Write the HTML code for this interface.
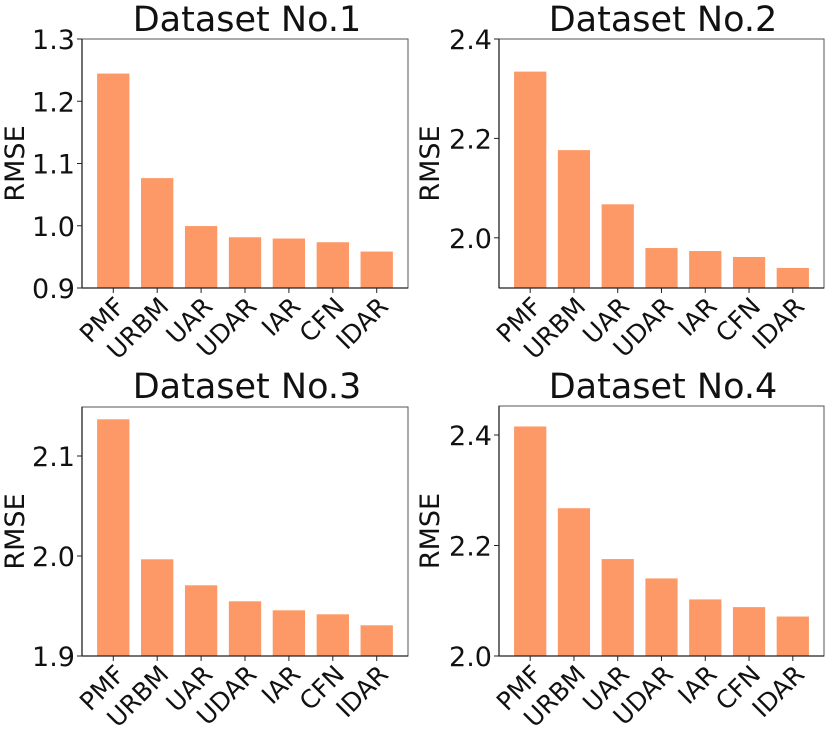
<!DOCTYPE html>
<html><head><meta charset="utf-8">
<style>
html,body{margin:0;padding:0;background:#fff;}
svg{display:block;font-family:"DejaVu Sans","Liberation Sans",sans-serif;}
</style></head>
<body>
<svg id="chart" width="828" height="736" viewBox="0 0 828 736" xmlns="http://www.w3.org/2000/svg"></svg>
<script>
const categories = ["PMF","URBM","UAR","UDAR","IAR","CFN","IDAR"];
const titles = ["Dataset No.1","Dataset No.2","Dataset No.3","Dataset No.4"];
const values1 = [1.245,1.077,1.000,0.982,0.980,0.974,0.959];
const values2 = [2.335,2.177,2.068,1.980,1.974,1.962,1.940];
const values3 = [2.137,1.997,1.971,1.955,1.946,1.942,1.931];
const values4 = [2.416,2.268,2.176,2.141,2.103,2.089,2.072];
const ylims = [[0.9,1.3],[1.899,2.4],[1.9,2.149],[2.0,2.4525]];
const ticks1 = ["0.9","1.0","1.1","1.2","1.3"];
const ticks2 = ["2.0","2.2","2.4"];
const ticks3 = ["1.9","2.0","2.1"];
const ticks4 = ["2.0","2.2","2.4"];

const NS="http://www.w3.org/2000/svg";
const svg=document.getElementById('chart');
function mk(tag,attrs,parent){const e=document.createElementNS(NS,tag);for(const k in attrs)e.setAttribute(k,attrs[k]);(parent||svg).appendChild(e);return e;}

const boxes=[{x:82,y:39,w:326,h:249,tx:247,ty:31,lx:24},
             {x:499,y:39,w:325,h:249,tx:663,ty:31,lx:439},
             {x:82,y:407,w:326,h:249,tx:247,ty:398,lx:24},
             {x:499,y:406,w:325,h:250,tx:663,ty:398,lx:439}];
const allValues=[values1,values2,values3,values4];
const allTicks=[ticks1,ticks2,ticks3,ticks4];

boxes.forEach((b,i)=>{
  const g=mk('g',{});
  
  
  const [y0,y1]=ylims[i];
  const ys=v=>b.y+b.h-(v-y0)/(y1-y0)*b.h;
  const w=0.75, n=categories.length;
  const span=(n-1+w)*1.1;
  const ppu=b.w/span;
  const xs=k=>b.x+(0.05*(n-1+w)+w/2+k)*ppu;
  allValues[i].forEach((v,k)=>{
    const top=ys(v);
    const r=mk('rect',{x:xs(k)-w/2*ppu,y:top,width:w*ppu,height:b.y+b.h-top,fill:'#fc9966',stroke:'#fff','stroke-width':0.6},g);
    
    
  });
  const f=mk('rect',{x:b.x,y:b.y,width:b.w,height:b.h,fill:'none',stroke:'#555','stroke-width':1},g);
  
  
  mk('line',{x1:b.x,y1:b.y+b.h,x2:b.x+b.w,y2:b.y+b.h,stroke:'#222','stroke-width':1.3},g);
  mk('line',{x1:b.x,y1:b.y,x2:b.x,y2:b.y+b.h,stroke:'#222','stroke-width':1.3},g);
  allTicks[i].forEach(t=>{
    const y=ys(parseFloat(t));
    mk('line',{x1:b.x-5,y1:y,x2:b.x,y2:y,stroke:'#222','stroke-width':1},g);
    const tx=mk('text',{x:b.x-7,y:y+10,'text-anchor':'end','font-size':27,fill:'#111'},g);
    tx.textContent=t;
    
    
  });
  categories.forEach((c,k)=>{
    const x=xs(k), yb=b.y+b.h;
    mk('line',{x1:x,y1:yb,x2:x,y2:yb+5,stroke:'#222','stroke-width':1},g);
    const ax=x+13, ay=yb+20;
    const tx=mk('text',{x:ax,y:ay,'text-anchor':'end','font-size':25,fill:'#111',transform:'rotate(-45 '+ax+' '+ay+')'},g);
    tx.textContent=c;
    
    
  });
  const tt=mk('text',{x:b.tx,y:b.ty,'text-anchor':'middle','font-size':35,fill:'#111'},g);
  tt.textContent=titles[i];
  
  
  const cy=b.y+b.h/2;
  const yl=mk('text',{x:b.lx,y:cy,'text-anchor':'middle','font-size':27,fill:'#111',transform:'rotate(-90 '+b.lx+' '+cy+')'},g);
  yl.textContent='RMSE';
  
  
});
</script>
</body></html>
